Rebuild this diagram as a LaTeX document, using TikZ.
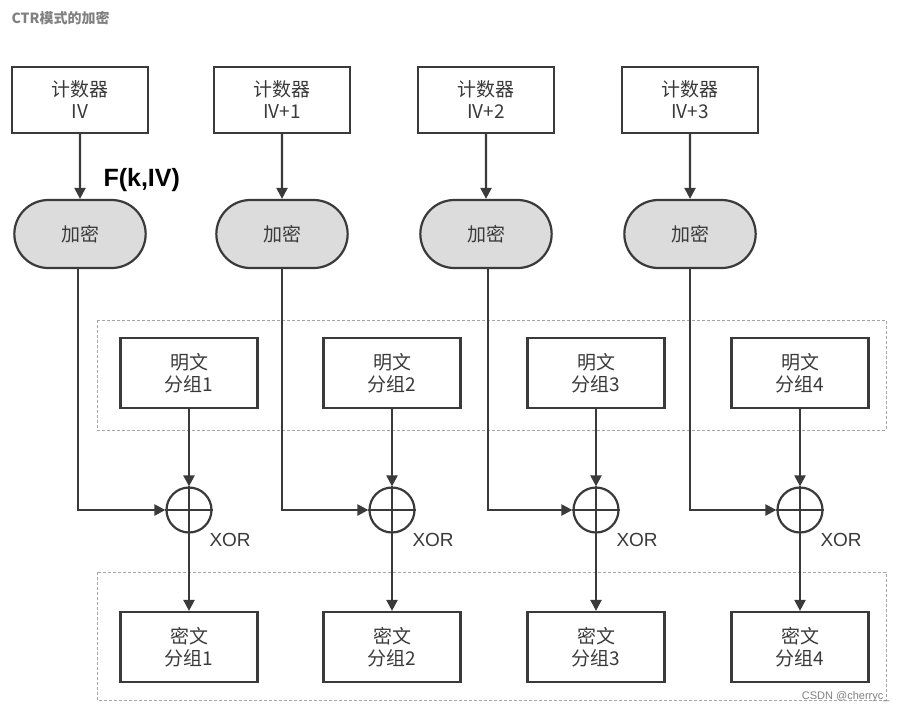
\documentclass[tikz,border=0pt]{standalone}
\usepackage{fontspec}
\setmainfont{Liberation Sans}
\newfontfamily\cjk{Noto Sans CJK SC}
\usetikzlibrary{arrows.meta,shapes.misc}
\definecolor{ink}{HTML}{3A3A3A}
\definecolor{encfill}{HTML}{DCDCDC}
\begin{document}
\begin{tikzpicture}[x=1pt,y=-1pt,
  box/.style={draw=ink,line width=2.2pt,minimum width=136pt,minimum height=66pt,align=center,font=\cjk\fontsize{19}{22}\selectfont,text=ink,inner sep=0pt},
  pbox/.style={box,minimum width=137pt,minimum height=70pt},
  enc/.style={draw=ink,line width=2.2pt,fill=encfill,rounded rectangle,minimum width=138pt,minimum height=68pt,font=\cjk\fontsize{19}{22}\selectfont,text=ink},
  xorc/.style={draw=ink,line width=2.2pt,circle,minimum size=45pt,inner sep=0pt},
  ln/.style={draw=ink,line width=2.2pt},
  arr/.style={ln,-{Triangle[length=11pt,width=11pt]}},
  dashbox/.style={draw=gray!70,densely dashed,line width=1pt},
  xl/.style={font=\fontsize{19}{22}\selectfont,text=ink}]
\useasboundingbox (0,0) rectangle (897,713);
\node[anchor=west,text=gray,font=\cjk\bfseries\fontsize{14}{16}\selectfont] (title) at (8,18) {CTR模式的加密};
\draw[dashbox] (97,320) rectangle (886,430);
\draw[dashbox] (97,572) rectangle (886,700);
\foreach \i/\cx/\lx/\xx/\iv in {1/80/78/189/IV,2/282/282/392/IV+1,3/486/488/596/IV+2,4/690/690/800/IV+3}{
  \node[box] (c\i) at (\cx,100) {计数器\\\iv};
  \node[enc] (e\i) at (\cx,234) {加密};
  \node[pbox] (p\i) at (\xx,373) {明文\\分组\i};
  \node[xorc] (x\i) at (\xx,510) {};
  \draw[ln] (x\i.north)--(x\i.south) (x\i.west)--(x\i.east);
  \node[pbox] (k\i) at (\xx,647) {密文\\分组\i};
  \node[xl,anchor=west] (xl\i) at (\xx+17,540) {XOR};
  \draw[arr] (c\i) -- (e\i);
  \draw[arr] (p\i) -- (x\i);
  \draw[arr] (x\i) -- (k\i);
  \coordinate (b\i) at (\lx,510);
  \draw[arr] (e\i.south -| b\i) -- (b\i) -- (x\i);
}
\node[anchor=west,font=\bfseries\fontsize{25}{28}\selectfont] (fk) at (100,180) {F(k,IV)};
\node[anchor=east,text=gray,font=\fontsize{11}{13}\selectfont] (wm) at (893,697) {CSDN @cherryc\_};
\end{tikzpicture}
\end{document}
